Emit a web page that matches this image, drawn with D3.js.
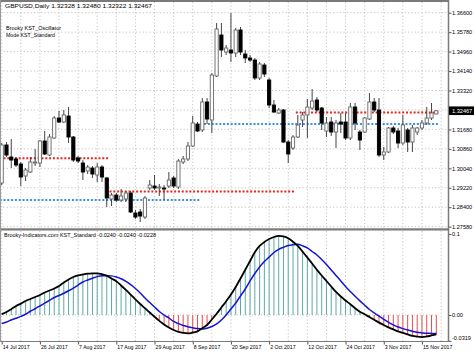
<!DOCTYPE html>
<html><head><meta charset="utf-8">
<script src="https://cdn.jsdelivr.net/npm/d3@7"></script>
<style>
body{margin:0;background:#fff}
svg{display:block}
text{font-family:"Liberation Sans",Arial,sans-serif;fill:#000}
</style>
</head><body>
<svg id="c" width="474" height="355"></svg>
<script>
// ---------- DATA (GBPUSD Daily) ----------
const open  = [1.29420,1.31022,1.30516,1.30432,1.30221,1.29715,1.29883,1.30263,1.30263,1.31190,
               1.30600,1.31317,1.32160,1.31991,1.32244,1.31359,1.30474,1.30263,1.29926,1.30052,
               1.29757,1.30094,1.29631,1.28745,1.28914,1.28703,1.28745,1.28998,1.28155,1.28197,
               1.27986,1.29209,1.29293,1.29209,1.29209,1.29293,1.29631,1.29251,1.30305,1.30432,
               1.30980,1.31907,1.31654,1.32835,1.32076,1.33931,1.35659,1.34943,1.35027,1.34901,
               1.35870,1.34858,1.34690,1.34605,1.33847,1.34395,1.33762,1.32708,1.32371,1.32497,
               1.31148,1.30895,1.31359,1.32076,1.32287,1.32582,1.32919,1.32582,1.31612,1.31991,
               1.31570,1.31991,1.31991,1.31317,1.32624,1.31570,1.31570,1.32118,1.32835,1.32497,
               1.30600,1.30727,1.31739,1.31612,1.31106,1.31654,1.31148,1.31570,1.31739,1.31949,
               1.32160,1.32328];
const high  = [1.31106,1.31148,1.31275,1.30516,1.30305,1.30052,1.30516,1.30853,1.31233,1.31612,
               1.31486,1.32244,1.32455,1.32497,1.32624,1.31401,1.30558,1.30389,1.30179,1.30136,
               1.30263,1.30179,1.29673,1.28998,1.28998,1.29167,1.29082,1.29082,1.28281,1.28324,
               1.28872,1.29546,1.29757,1.29378,1.29335,1.29883,1.29715,1.30432,1.30558,1.31148,
               1.32244,1.31991,1.33003,1.33003,1.34057,1.36165,1.36165,1.35238,1.36587,1.35955,
               1.35997,1.35027,1.34816,1.34690,1.34521,1.34479,1.33847,1.32919,1.32582,1.32540,
               1.31233,1.31443,1.32287,1.32413,1.32961,1.33383,1.33045,1.32624,1.32202,1.32202,
               1.32076,1.32371,1.32371,1.32793,1.32793,1.31654,1.32202,1.33214,1.33003,1.33003,
               1.30937,1.31781,1.31823,1.31739,1.32287,1.31739,1.31865,1.31781,1.32076,1.32624,
               1.32793,1.32480];
const low   = [1.29335,1.30516,1.30052,1.30094,1.29293,1.29504,1.29841,1.30136,1.30094,1.30600,
               1.30558,1.31275,1.31949,1.31949,1.31106,1.30305,1.30263,1.29546,1.29799,1.29631,
               1.29462,1.29462,1.28408,1.28450,1.28619,1.28619,1.28619,1.28155,1.27902,1.27775,
               1.27902,1.29125,1.29125,1.28872,1.28703,1.29209,1.29209,1.29167,1.30221,1.30347,
               1.30937,1.31570,1.31570,1.31907,1.31528,1.33889,1.34732,1.34816,1.34521,1.34732,
               1.34816,1.34479,1.34521,1.33762,1.33762,1.33889,1.32582,1.32371,1.32329,1.31106,
               1.30263,1.30811,1.31317,1.31781,1.31317,1.32497,1.32413,1.31654,1.31359,1.31401,
               1.30895,1.31528,1.31233,1.31233,1.31654,1.30811,1.31528,1.32076,1.32413,1.30516,
               1.30389,1.30685,1.31486,1.30895,1.31022,1.30727,1.30727,1.31443,1.31654,1.31865,
               1.32076,1.32322];
const close = [1.31022,1.30600,1.30389,1.30179,1.29673,1.29968,1.30305,1.30305,1.31190,1.30642,
               1.31359,1.32160,1.31991,1.32287,1.31359,1.30389,1.30347,1.29883,1.30094,1.29799,
               1.30094,1.29673,1.28787,1.28914,1.28703,1.28872,1.28998,1.28197,1.27986,1.28028,
               1.28787,1.29335,1.29209,1.29251,1.29167,1.29546,1.29293,1.30347,1.30432,1.30980,
               1.31949,1.31612,1.32835,1.32118,1.33973,1.35912,1.35027,1.35111,1.34901,1.35870,
               1.34943,1.34690,1.34605,1.33847,1.34437,1.34015,1.32708,1.32413,1.32497,1.31148,
               1.30642,1.31359,1.31865,1.32287,1.32624,1.32877,1.32497,1.31949,1.31949,1.31570,
               1.31949,1.31907,1.31317,1.32624,1.31949,1.31233,1.32160,1.32835,1.32497,1.30600,
               1.30727,1.31739,1.31570,1.31106,1.31865,1.31148,1.31739,1.31739,1.31949,1.32160,
               1.32371,1.32467];

// KST oscillator (black line / histogram) and signal (blue line)
const kst = [0.0010,0.0037,0.0072,0.0110,0.0140,0.0173,0.0198,0.0222,0.0247,0.0278,
             0.0302,0.0327,0.0358,0.0401,0.0438,0.0469,0.0488,0.0500,0.0510,0.0514,
             0.0515,0.0504,0.0486,0.0451,0.0417,0.0364,0.0309,0.0252,0.0193,0.0136,
             0.0084,0.0031,-0.0022,-0.0072,-0.0117,-0.0154,-0.0185,-0.0207,-0.0220,-0.0226,
             -0.0216,-0.0202,-0.0163,-0.0123,-0.0056,0.0015,0.0093,0.0170,0.0253,0.0346,
             0.0451,0.0558,0.0667,0.0774,0.0852,0.0901,0.0938,0.0963,0.0977,0.0970,
             0.0947,0.0904,0.0852,0.0783,0.0710,0.0636,0.0558,0.0488,0.0420,0.0352,
             0.0284,0.0228,0.0179,0.0133,0.0084,0.0041,0.0009,-0.0025,-0.0059,-0.0094,
             -0.0123,-0.0153,-0.0178,-0.0202,-0.0222,-0.0239,-0.0259,-0.0268,-0.0272,-0.0265,
             -0.0253,-0.0240];
const signal = [-0.0106,-0.0086,-0.0062,-0.0040,-0.0017,0.0009,0.0046,0.0077,0.0111,0.0146,
                0.0181,0.0216,0.0241,0.0268,0.0299,0.0333,0.0370,0.0407,0.0432,0.0454,
                0.0474,0.0484,0.0486,0.0483,0.0469,0.0447,0.0414,0.0374,0.0327,0.0272,
                0.0210,0.0154,0.0099,0.0043,0.0000,-0.0037,-0.0080,-0.0107,-0.0130,-0.0146,
                -0.0158,-0.0168,-0.0172,-0.0164,-0.0142,-0.0111,-0.0062,0.0000,0.0074,0.0148,
                0.0235,0.0321,0.0420,0.0512,0.0593,0.0660,0.0716,0.0772,0.0811,0.0836,
                0.0858,0.0868,0.0872,0.0854,0.0828,0.0784,0.0741,0.0685,0.0623,0.0556,
                0.0489,0.0420,0.0351,0.0290,0.0231,0.0174,0.0121,0.0068,0.0025,-0.0014,
                -0.0053,-0.0091,-0.0122,-0.0148,-0.0168,-0.0186,-0.0201,-0.0214,-0.0221,-0.0226,
                -0.0227,-0.0228];

// dotted level lines (bar index ranges and prices)
const redFrom  = [0, 23, 62];
const redTo    = [22, 61, 91];
const redPrice = [1.30461, 1.29062, 1.32392];
const blueFrom  = [0, 42];
const blueTo    = [41, 91];
const bluePrice = [1.28703, 1.31907];

const timeTickBars   = [0, 8, 16, 24, 32, 40, 48, 56, 64, 72, 80, 88];
const timeTickLabels = ["14 Jul 2017","26 Jul 2017","7 Aug 2017","17 Aug 2017","29 Aug 2017","8 Sep 2017",
                        "20 Sep 2017","2 Oct 2017","12 Oct 2017","24 Oct 2017","3 Nov 2017","15 Nov 2017"];
const priceTicks = [1.36600,1.35780,1.34960,1.34140,1.33320,1.32500,1.31680,1.30860,1.30040,1.29220,1.28400,1.27580];
const priceTickLabels = ["1.36600","1.35780","1.34960","1.34140","1.33320","","1.31680","1.30860","1.30040","1.29220","1.28400","1.27580"];
const indTicks = [0.1, 0, -0.0319];
const indTickLabels = ["0.1", "0.00", "-0.0319"];
const gridBars = d3.range(0, 93, 4);
const lastPrice = 1.32467;
const titleText = "GBPUSD,Daily  1.32328 1.32480 1.32322 1.32467";
const indName = "Brooky KST_Oscillator";
const indMode = "Mode KST_Standard";
const indHeader = "Brooky-Indicators.com KST_Standard -0.0240 -0.0240 -0.0228";

// ---------- LAYOUT ----------
const svg = d3.select("#c");
const W = 474, plotR = 448;
const n = close.length;
const x = d3.scaleLinear().domain([0, 91]).range([1.7, 436.3]);
const yP = d3.scaleLinear().domain([1.27523, 1.37051]).range([228, 2]);
const yI = d3.scaleLinear().domain([-0.0321, 0.1037]).range([341, 231]);

svg.append("rect").attr("width", W).attr("height", 355).attr("fill", "#fff");

svg.append("clipPath").attr("id","cm").append("rect").attr("x",0).attr("y",2).attr("width",plotR).attr("height",226);
svg.append("clipPath").attr("id","ci").append("rect").attr("x",0).attr("y",231).attr("width",plotR).attr("height",110);

// grids
const gM = svg.append("g").attr("clip-path","url(#cm)");
const gI = svg.append("g").attr("clip-path","url(#ci)");
const gridStyle = s => s.attr("stroke","#c4c4c4").attr("stroke-width",1).attr("stroke-dasharray","1.2,2.2");
gM.selectAll(".hg").data(priceTicks).join("line")
  .attr("x1",0).attr("x2",plotR).attr("y1",d=>yP(d)).attr("y2",d=>yP(d)).call(gridStyle);
gM.selectAll(".vg").data(gridBars).join("line")
  .attr("x1",d=>x(d)).attr("x2",d=>x(d)).attr("y1",2).attr("y2",228).call(gridStyle);
gI.selectAll(".vg").data(gridBars).join("line")
  .attr("x1",d=>x(d)).attr("x2",d=>x(d)).attr("y1",231).attr("y2",341).call(gridStyle);

// dotted levels
function levels(from, to, price, color){
  gM.selectAll(null).data(price).join("line")
    .attr("x1",(d,i)=>x(from[i])-2).attr("x2",(d,i)=>x(to[i])+2)
    .attr("y1",d=>yP(d)).attr("y2",d=>yP(d))
    .attr("stroke",color).attr("stroke-width",2).attr("stroke-dasharray","2,1.8");
}
levels(redFrom, redTo, redPrice, "#e8221e");
levels(blueFrom, blueTo, bluePrice, "#3b8fe0");

// candles
const idx = d3.range(n);
gM.selectAll(".wick").data(idx).join("line")
  .attr("x1",i=>x(i)).attr("x2",i=>x(i))
  .attr("y1",i=>yP(high[i])).attr("y2",i=>yP(low[i]))
  .attr("stroke","#444").attr("stroke-width",1);
gM.selectAll(".body").data(idx).join("rect")
  .attr("x",i=>x(i)-1.6).attr("width",3.2)
  .attr("y",i=>yP(Math.max(open[i],close[i])))
  .attr("height",i=>Math.max(0.8, Math.abs(yP(open[i])-yP(close[i]))))
  .attr("fill",i=>close[i]>=open[i]?"#fff":"#000")
  .attr("stroke",i=>close[i]>=open[i]?"#666":"#000").attr("stroke-width",0.9);

// indicator histogram + lines
gI.selectAll(".hist").data(idx).join("line")
  .attr("x1",i=>x(i)).attr("x2",i=>x(i))
  .attr("y1",yI(0)).attr("y2",i=>yI(kst[i]))
  .attr("stroke",i=>kst[i]>=0?"#5fa8a8":"#e84a4a").attr("stroke-width",1);
gI.append("line").attr("x1",0).attr("x2",x(91)+2).attr("y1",yI(0)).attr("y2",yI(0))
  .attr("stroke","#999").attr("stroke-width",0.6).attr("stroke-dasharray","1,2");
gI.append("path").datum(signal)
  .attr("d", d3.line().x((d,i)=>x(i)).y(d=>yI(d)).curve(d3.curveMonotoneX))
  .attr("fill","none").attr("stroke","#1414d2").attr("stroke-width",1.5);
gI.append("path").datum(kst)
  .attr("d", d3.line().x((d,i)=>x(i)).y(d=>yI(d)).curve(d3.curveMonotoneX))
  .attr("fill","none").attr("stroke","#000").attr("stroke-width",1.8);

// frame
svg.append("rect").attr("x",0).attr("y",0).attr("width",plotR+1).attr("height",2).attr("fill","#7a7a7a");
svg.append("rect").attr("x",0).attr("y",228.3).attr("width",plotR+1).attr("height",2.2).attr("fill","#7a7a7a");
svg.append("line").attr("x1",448.5).attr("x2",448.5).attr("y1",0).attr("y2",342).attr("stroke","#7a7a7a").attr("stroke-width",1.5);
svg.append("line").attr("x1",0).attr("x2",449).attr("y1",341.5).attr("y2",341.5).attr("stroke","#7a7a7a").attr("stroke-width",1);
svg.append("line").attr("x1",0.5).attr("x2",0.5).attr("y1",0).attr("y2",342).attr("stroke","#9a9a9a").attr("stroke-width",1);

// price axis
const axP = svg.append("g").attr("transform","translate(449,0)")
  .call(d3.axisRight(yP).tickValues(priceTicks).tickSize(2.5).tickFormat((d,i)=>priceTickLabels[i]));
axP.select(".domain").remove();
axP.selectAll("line").attr("stroke","#555");
axP.selectAll("text").attr("x",3).attr("font-size","5.6px").attr("font-family","Liberation Sans, Arial, sans-serif").attr("fill","#111");

// current price tag
svg.append("rect").attr("x",449).attr("y",yP(lastPrice)-4.3).attr("width",25).attr("height",8.6).attr("fill","#000");
svg.append("text").attr("x",452).attr("y",yP(lastPrice)).attr("dy","0.35em")
  .attr("font-size","5.6px").style("fill","#fff").text(d3.format(".5f")(lastPrice));

// indicator axis
const axI = svg.append("g").attr("transform","translate(449,0)")
  .call(d3.axisRight(yI).tickValues(indTicks).tickSize(2.5).tickFormat((d,i)=>indTickLabels[i]));
axI.select(".domain").remove();
axI.selectAll("line").attr("stroke","#555");
axI.selectAll("text").attr("x",3).attr("font-size","5.6px").attr("font-family","Liberation Sans, Arial, sans-serif").attr("fill","#111");
axI.selectAll(".tick").filter(d=>d<0).select("text").attr("y",-2.8);

// time axis
const axT = svg.append("g").attr("transform","translate(0,342)")
  .call(d3.axisBottom(x).tickValues(timeTickBars).tickSize(2.5).tickFormat((d,i)=>timeTickLabels[i]));
axT.select(".domain").remove();
axT.selectAll("line").attr("stroke","#555");
axT.selectAll("text").attr("text-anchor","start").attr("dx","0.5").attr("y",3.2)
  .attr("font-size","5.2px").attr("font-family","Liberation Sans, Arial, sans-serif").attr("fill","#111");

// texts
svg.append("text").attr("x",5).attr("y",8.2).attr("font-size","6px").attr("textLength",147).attr("lengthAdjust","spacingAndGlyphs").text(titleText);
svg.append("text").attr("x",6).attr("y",30.3).attr("font-size","5.6px").attr("textLength",55).attr("lengthAdjust","spacingAndGlyphs").text(indName);
svg.append("text").attr("x",6).attr("y",36.6).attr("font-size","5.6px").attr("textLength",49).attr("lengthAdjust","spacingAndGlyphs").text(indMode);
svg.append("text").attr("x",4).attr("y",237.2).attr("font-size","5.6px").attr("textLength",152).attr("lengthAdjust","spacingAndGlyphs").text(indHeader);
</script>
</body></html>
